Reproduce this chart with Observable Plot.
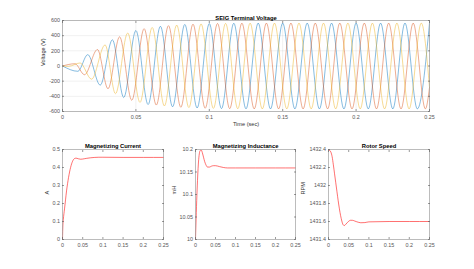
<!DOCTYPE html>
<html>
<head>
<meta charset="utf-8">
<script src="https://cdn.jsdelivr.net/npm/d3@7"></script>
<script src="https://cdn.jsdelivr.net/npm/@observablehq/plot@0.6"></script>
<style>
  body { margin: 0; background: #fff; }
  #fig { position: relative; width: 474px; height: 269px; overflow: hidden; background: #fff;
         font-family: "Liberation Sans", Arial, sans-serif; }
  #fig > svg { position: absolute; left: 0; top: 0; }
</style>
</head>
<body>
<div id="fig"></div>
<script>
// ---- shared time axis ----
const timeTicks = [0, 0.05, 0.1, 0.15, 0.2, 0.25];
const timeTickLabels = ["0", "0.05", "0.1", "0.15", "0.2", "0.25"];

// ---- SEIG terminal voltage: successive peaks [time s, volts] of each phase ----
const phaseA = [
  [0, 0], [0.0105, -70], [0.0172, 150], [0.0257, -252], [0.034, 345], [0.0417, -415],
  [0.05, 468], [0.0583, -508], [0.0667, 524], [0.075, -538], [0.0833, 548], [0.0917, -554],
  [0.1, 559], [0.1083, -562], [0.1167, 564], [0.125, -565], [0.1333, 566], [0.1417, -566],
  [0.15, 566], [0.1583, -566], [0.1667, 566], [0.175, -566], [0.1833, 566], [0.1917, -566],
  [0.2, 566], [0.2083, -566], [0.2167, 566], [0.225, -566], [0.2333, 566], [0.2417, -566],
  [0.25, 566]
];
const phaseB = [
  [0, 0], [0.0085, 30], [0.015, -115], [0.0238, 217], [0.031, -300], [0.0389, 385],
  [0.0472, -452], [0.0556, 492], [0.0639, -515], [0.0722, 532], [0.0806, -544], [0.0889, 551],
  [0.0972, -557], [0.1056, 561], [0.1139, -563], [0.1222, 565], [0.1306, -566], [0.1389, 566],
  [0.1472, -566], [0.1556, 566], [0.1639, -566], [0.1722, 566], [0.1806, -566], [0.1889, 566],
  [0.1972, -566], [0.2056, 566], [0.2139, -566], [0.2222, 566], [0.2306, -566], [0.2389, 566],
  [0.2472, -566], [0.25, -283]
];
const phaseC = [
  [0, 0], [0.004, -5], [0.012, 40], [0.0198, -174], [0.029, 278], [0.0361, -365],
  [0.0444, 435], [0.0528, -480], [0.0611, 508], [0.0694, -527], [0.0778, 540], [0.0861, -548],
  [0.0944, 555], [0.1028, -559], [0.1111, 562], [0.1194, -564], [0.1278, 565], [0.1361, -566],
  [0.1444, 566], [0.1528, -566], [0.1611, 566], [0.1694, -566], [0.1778, 566], [0.1861, -566],
  [0.1944, 566], [0.2028, -566], [0.2111, 566], [0.2194, -566], [0.2278, 566], [0.2361, -566],
  [0.2444, 566], [0.25, -283]
];
const phaseColors = ["#0072BD", "#D95319", "#EDB120"];
const voltTicks = [-600, -400, -200, 0, 200, 400, 600];
const voltTickLabels = ["-600", "-400", "-200", "0", "200", "400", "600"];

// ---- magnetizing current (A) ----
const currentT = [0, 0.001, 0.002, 0.005, 0.0075, 0.01, 0.0125, 0.015, 0.0175, 0.02, 0.0225,
  0.025, 0.0275, 0.03, 0.033, 0.036, 0.04, 0.045, 0.05, 0.055, 0.06, 0.07, 0.08, 0.09, 0.1,
  0.15, 0.2, 0.25];
const currentA = [0, 0.08, 0.11, 0.17, 0.22, 0.27, 0.31, 0.345, 0.375, 0.4, 0.42,
  0.435, 0.445, 0.45, 0.452, 0.451, 0.448, 0.446, 0.447, 0.449, 0.451, 0.454, 0.456, 0.457, 0.457,
  0.456, 0.456, 0.456];
const currentTicks = [0, 0.1, 0.2, 0.3, 0.4, 0.5];
const currentTickLabels = ["0", "0.1", "0.2", "0.3", "0.4", "0.5"];

// ---- magnetizing inductance (mH) ----
const inductT = [0, 0.001, 0.002, 0.004, 0.006, 0.008, 0.01, 0.012, 0.014, 0.016, 0.018, 0.02,
  0.023, 0.026, 0.03, 0.035, 0.04, 0.045, 0.05, 0.06, 0.07, 0.08, 0.1, 0.15, 0.2, 0.25];
const inductMH = [10, 10.03, 10.06, 10.11, 10.15, 10.178, 10.193, 10.198, 10.199, 10.196, 10.19, 10.183,
  10.173, 10.166, 10.161, 10.161, 10.163, 10.164, 10.164, 10.162, 10.16, 10.159, 10.159, 10.159, 10.159, 10.159];
const inductTicks = [10, 10.05, 10.1, 10.15, 10.2];
const inductTickLabels = ["10", "10.05", "10.1", "10.15", "10.2"];

// ---- rotor speed (RPM) ----
const speedT = [0, 0.003, 0.006, 0.009, 0.012, 0.015, 0.018, 0.021, 0.024, 0.027, 0.03, 0.033,
  0.036, 0.039, 0.042, 0.046, 0.05, 0.055, 0.06, 0.065, 0.07, 0.075, 0.08, 0.09, 0.1, 0.15, 0.2, 0.25];
const speedRPM = [1432.4, 1432.39, 1432.37, 1432.32, 1432.23, 1432.13, 1432.03, 1431.93, 1431.83,
  1431.74, 1431.665, 1431.605, 1431.565, 1431.555, 1431.565, 1431.585, 1431.603, 1431.614, 1431.613,
  1431.605, 1431.597, 1431.59, 1431.586, 1431.588, 1431.596, 1431.6, 1431.6, 1431.6];
const speedTicks = [1431.4, 1431.6, 1431.8, 1432, 1432.2, 1432.4];
const speedTickLabels = ["1431.4", "1431.6", "1431.8", "1432", "1432.2", "1432.4"];

// ---- drawing ----
const W = 474, H = 269;
const axisInk = "#555";
const frameInk = "#a0a0a0";

function panel({box, yDomain, yTicks, yTickLabels, title, titleDy, yLabel, yLabelDx, xLabel, grid, lines}) {
  const [x0, y0, x1, y1] = box;
  const marks = [];
  if (grid) {
    marks.push(Plot.gridX(timeTicks, {stroke: "#000", strokeOpacity: 0.1, strokeWidth: 0.6}));
    marks.push(Plot.gridY(yTicks, {stroke: "#000", strokeOpacity: 0.1, strokeWidth: 0.6}));
  }
  marks.push(...lines);
  marks.push(
    Plot.frame({stroke: frameInk, strokeWidth: 0.7}),
    Plot.axisX(timeTicks, {anchor: "bottom", tickSize: -2, tickPadding: 5.5, label: null,
      tickFormat: d => timeTickLabels[timeTicks.indexOf(d)], fontSize: 5.4, color: axisInk, strokeWidth: 0.6}),
    Plot.axisX(timeTicks, {anchor: "top", tickSize: -2, label: null, tickFormat: () => "",
      color: axisInk, strokeWidth: 0.6}),
    Plot.axisY(yTicks, {anchor: "left", tickSize: -2, tickPadding: 4.5, label: null,
      tickFormat: d => yTickLabels[yTicks.indexOf(d)], fontSize: 5.4, color: axisInk, strokeWidth: 0.6}),
    Plot.axisY(yTicks, {anchor: "right", tickSize: -2, label: null, tickFormat: () => "",
      color: axisInk, strokeWidth: 0.6}),
    Plot.text([title], {frameAnchor: "top", dy: titleDy, fontWeight: "bold", fontSize: 5.8, fill: "#000"}),
    Plot.text([yLabel], {frameAnchor: "left", dx: yLabelDx, rotate: -90, fontSize: 5.6, fill: "#333"})
  );
  if (xLabel) marks.push(Plot.text([xLabel], {frameAnchor: "bottom", dy: 14.5, fontSize: 5.6, fill: "#333"}));
  return Plot.plot({
    width: W, height: H,
    marginLeft: x0, marginRight: W - x1, marginTop: y0, marginBottom: H - y1,
    style: {background: "transparent", fontFamily: "Liberation Sans, Arial, sans-serif", fontSize: "5.4px", overflow: "visible"},
    x: {domain: [0, 0.25]},
    y: {domain: yDomain},
    marks
  });
}

const fig = document.getElementById("fig");
const curveLine = (rows, color, width, opacity) =>
  Plot.line(rows, {x: d => d[0], y: d => d[1], stroke: color, strokeWidth: width,
    strokeOpacity: opacity, curve: "monotone-x"});

fig.append(panel({
  box: [62, 20, 429, 111],
  yDomain: [-600, 600], yTicks: voltTicks, yTickLabels: voltTickLabels,
  title: "SEIG Terminal Voltage", titleDy: -5,
  yLabel: "Voltage (V)", yLabelDx: -19, xLabel: "Time (sec)", grid: true,
  lines: [phaseA, phaseB, phaseC].map((p, i) => curveLine(p, phaseColors[i], 0.6, 0.8))
}));

const zip = (t, v) => t.map((d, i) => [d, v[i]]);

fig.append(panel({
  box: [62, 149, 163, 239],
  yDomain: [0, 0.5], yTicks: currentTicks, yTickLabels: currentTickLabels,
  title: "Magnetizing Current", titleDy: -5.5, yLabel: "A", yLabelDx: -15,
  lines: [curveLine(zip(currentT, currentA), "#ff0000", 0.7, 0.8)]
}));

fig.append(panel({
  box: [195, 149, 295, 239],
  yDomain: [10, 10.2], yTicks: inductTicks, yTickLabels: inductTickLabels,
  title: "Magnetizing Inductance", titleDy: -5.5, yLabel: "mH", yLabelDx: -21,
  lines: [curveLine(zip(inductT, inductMH), "#ff0000", 0.7, 0.8)]
}));

fig.append(panel({
  box: [328, 149, 429, 239],
  yDomain: [1431.4, 1432.4], yTicks: speedTicks, yTickLabels: speedTickLabels,
  title: "Rotor Speed", titleDy: -5.5, yLabel: "RPM", yLabelDx: -25,
  lines: [curveLine(zip(speedT, speedRPM), "#ff0000", 0.7, 0.8)]
}));
</script>
</body>
</html>
